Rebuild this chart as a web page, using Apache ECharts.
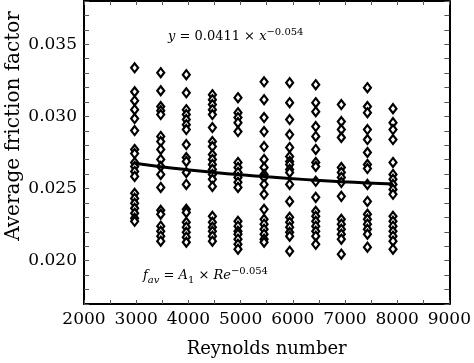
<!DOCTYPE html>
<html>
<head>
<meta charset="utf-8">
<script src="https://cdn.jsdelivr.net/npm/echarts@6/dist/echarts.min.js"></script>
<style>html,body{margin:0;padding:0;background:#fff}#c{width:474px;height:363px}</style>
</head>
<body>
<div id="c"></div>
<script>
// Reynolds numbers of the measured columns
const reynolds = [2970, 3470, 3960, 4460, 4950, 5450, 5940, 6440, 6930, 7430, 7920];
// Average friction factor values per column
const f2970 = [0.03337,0.03171,0.03109,0.03047,0.02985,0.02902,0.02771,0.02743,0.02681,0.02653,0.02619,0.02584,0.02467,0.02432,0.02398,0.02363,0.02329,0.02294,0.02273];
const f3470 = [0.03303,0.03178,0.03068,0.03040,0.03013,0.02861,0.02826,0.02771,0.02702,0.02653,0.02598,0.02508,0.02349,0.02322,0.02239,0.02204,0.02170,0.02135];
const f3960 = [0.03289,0.03164,0.03047,0.03013,0.02978,0.02943,0.02909,0.02805,0.02715,0.02688,0.02612,0.02529,0.02356,0.02335,0.02266,0.02232,0.02197,0.02163,0.02128];
const f4460 = [0.03151,0.03116,0.03082,0.03047,0.03013,0.02923,0.02826,0.02791,0.02736,0.02702,0.02667,0.02633,0.02598,0.02564,0.02515,0.02308,0.02266,0.02232,0.02204,0.02170,0.02135];
const f4950 = [0.03130,0.03026,0.02992,0.02957,0.02895,0.02681,0.02646,0.02612,0.02577,0.02543,0.02508,0.02273,0.02239,0.02204,0.02184,0.02149,0.02114,0.02080];
const f5450 = [0.03240,0.03116,0.02992,0.02895,0.02791,0.02702,0.02646,0.02598,0.02577,0.02529,0.02460,0.02356,0.02287,0.02253,0.02218,0.02184,0.02149,0.02128];
const f5940 = [0.03234,0.03095,0.02978,0.02874,0.02785,0.02722,0.02688,0.02667,0.02633,0.02612,0.02529,0.02411,0.02301,0.02266,0.02232,0.02197,0.02170,0.02066];
const f6440 = [0.03220,0.03095,0.03033,0.02930,0.02861,0.02771,0.02681,0.02653,0.02550,0.02439,0.02342,0.02308,0.02273,0.02239,0.02204,0.02170,0.02114];
const f6930 = [0.03082,0.02964,0.02909,0.02854,0.02646,0.02612,0.02577,0.02543,0.02446,0.02287,0.02253,0.02218,0.02184,0.02149,0.02045];
const f7430 = [0.03199,0.03068,0.03026,0.02909,0.02840,0.02750,0.02667,0.02639,0.02529,0.02411,0.02322,0.02287,0.02253,0.02218,0.02184,0.02094];
const f7920 = [0.03054,0.02957,0.02909,0.02840,0.02681,0.02598,0.02564,0.02529,0.02494,0.02460,0.02308,0.02273,0.02239,0.02204,0.02170,0.02135,0.02080];
// Fitted curve read at each column
const fitValues = [0.02675,0.02651,0.02631,0.02613,0.02597,0.02583,0.02570,0.02558,0.02548,0.02539,0.02531];
// Tick labels
const xTickLabels = [2000,3000,4000,5000,6000,7000,8000,9000];
const yTickLabels = ['0.020','0.025','0.030','0.035'];

const columns = [f2970,f3470,f3960,f4460,f4950,f5450,f5940,f6440,f6930,f7430,f7920];
const scatterData = [];
columns.forEach((col, i) => col.forEach(v => scatterData.push([reynolds[i], v])));
const fitData = reynolds.map((x, i) => [x, fitValues[i]]);

const FONT = 'DejaVu Serif';
const axisCommon = {
  type: 'value',
  axisLine: { show: true, lineStyle: { color: '#000', width: 2 } },
  axisTick: { show: true, inside: true, length: 5, lineStyle: { color: '#555', width: 1 } },
  splitLine: { show: false }
};

const chart = echarts.init(document.getElementById('c'), null, { renderer: 'canvas' });
chart.setOption({
  animation: false,
  backgroundColor: '#fff',
  grid: { left: 84, right: 22, top: 1, bottom: 58, containLabel: false },
  xAxis: [
    Object.assign({}, axisCommon, {
      position: 'bottom', min: 2000, max: 9000, interval: 500,
      axisTick: { show: true, inside: true, length: 4, lineStyle: { color: '#555', width: 1 } },
      axisLabel: {
        interval: 0, margin: 7, fontFamily: FONT, fontSize: 17, color: '#000',
        formatter: v => xTickLabels.indexOf(v) >= 0 ? String(v) : ''
      },
      name: 'Reynolds number', nameLocation: 'middle', nameGap: 36,
      nameTextStyle: { fontFamily: FONT, fontSize: 18, color: '#000' }
    }),
    Object.assign({}, axisCommon, {
      position: 'top', min: 2000, max: 9000, interval: 500,
      axisTick: { show: true, inside: true, length: 4, lineStyle: { color: '#555', width: 1 } },
      axisLabel: { show: false }
    })
  ],
  yAxis: [
    Object.assign({}, axisCommon, {
      position: 'left', min: 0.017, max: 0.038, interval: 0.001,
      axisLabel: {
        interval: 0, margin: 7, fontFamily: FONT, fontSize: 17, color: '#000',
        formatter: v => { const s = v.toFixed(3); return yTickLabels.indexOf(s) >= 0 ? s : ''; }
      }
    }),
    Object.assign({}, axisCommon, {
      position: 'right', min: 0.017, max: 0.038, interval: 0.001,
      axisLabel: { show: false }
    })
  ],
  series: [
    {
      type: 'scatter', xAxisIndex: 0, yAxisIndex: 0, data: scatterData,
      symbol: 'diamond', symbolSize: [7, 9],
      itemStyle: { color: '#fff', borderColor: '#000', borderWidth: 2.2, opacity: 1 },
      z: 2
    },
    {
      type: 'line', xAxisIndex: 0, yAxisIndex: 0, data: fitData,
      smooth: true, showSymbol: false, symbol: 'none',
      lineStyle: { color: '#000', width: 3 },
      z: 3
    }
  ],
  graphic: [
    {
      type: 'text', x: 14, y: 126, rotation: Math.PI / 2,
      style: { text: 'Average friction factor', fontFamily: FONT, fontSize: 20, fill: '#000', align: 'center', verticalAlign: 'middle' }
    },
    {
      type: 'text', x: 168, y: 37,
      style: {
        text: '{i|y} = 0.0411 × {i|x}{sup|−0.054}',
        fontFamily: FONT, fontSize: 13, fill: '#000', verticalAlign: 'middle',
        rich: {
          i: { fontFamily: FONT, fontStyle: 'italic', fontSize: 13 },
          sup: { fontFamily: FONT, fontSize: 10, padding: [0, 0, 10, 0] }
        }
      }
    },
    {
      type: 'text', x: 143, y: 276,
      style: {
        text: '{i|f}{sub|av} = {i|A}{sub2|1} × {i|Re}{sup|−0.054}',
        fontFamily: FONT, fontSize: 13, fill: '#000', verticalAlign: 'middle',
        rich: {
          i: { fontFamily: FONT, fontStyle: 'italic', fontSize: 13 },
          sub: { fontFamily: FONT, fontStyle: 'italic', fontSize: 10, padding: [8, 0, 0, 0] },
          sub2: { fontFamily: FONT, fontSize: 10, padding: [8, 0, 0, 0] },
          sup: { fontFamily: FONT, fontSize: 10, padding: [0, 0, 10, 0] }
        }
      }
    }
  ]
});
</script>
</body>
</html>
